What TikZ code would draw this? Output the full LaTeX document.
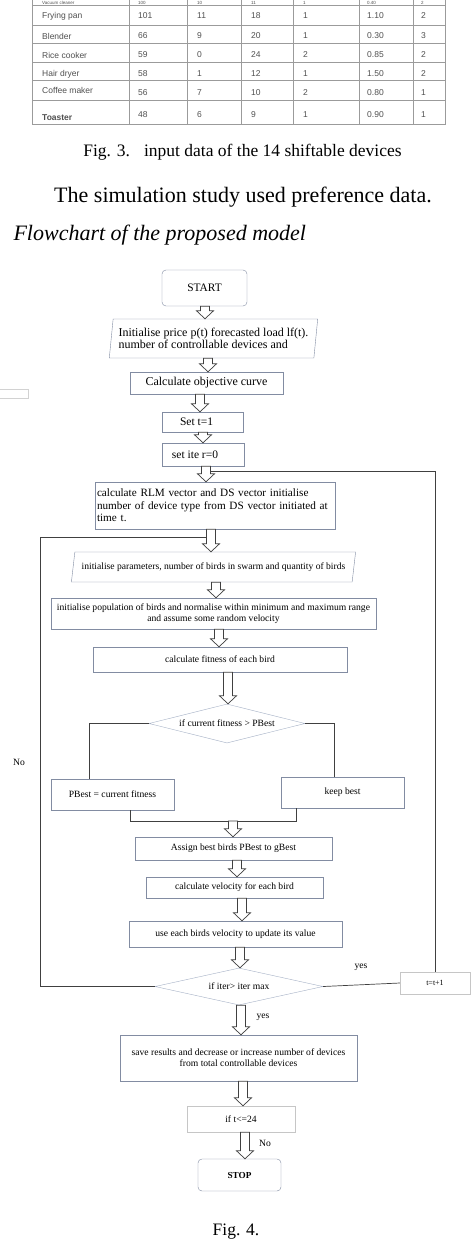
\documentclass[tikz,border=0pt]{standalone}
\usepackage{fontspec}
\setmainfont{Liberation Serif}
\newfontfamily\tablefont{Liberation Sans}
\usetikzlibrary{shapes.geometric,calc}

\definecolor{boxline}{RGB}{130,140,162}
\definecolor{diamline}{RGB}{165,176,198}
\definecolor{gridline}{RGB}{155,155,155}
\definecolor{cellgray}{RGB}{80,80,80}

\tikzset{
    box/.style = {draw=boxline, rectangle, inner sep=1pt, align=center,
        font=\fontsize{9.6}{11}\selectfont},
    terminal/.style = {box, rounded corners=4pt},
    inout/.style = {box, trapezium, trapezium stretches=true},
    decision/.style = {box, diamond, draw=diamline, inner sep=0pt},
    hollow/.style = {draw=black!75, fill=white, line width=0.7pt},
    link/.style = {draw=black!75, line width=0.7pt},
    cell/.style = {font=\tablefont\fontsize{8.5}{10}\selectfont,
        text=cellgray, anchor=west, inner sep=0pt},
    topcell/.style = {cell, font=\tablefont\fontsize{4.5}{5}\selectfont},
    grid/.style = {draw=gridline, line width=0.8pt},
}

% hollow block arrow: x position, from anchor, to anchor
\newcommand{\hollowarrow}[3]{%
    \draw [hollow]
        let \p1 = (#2), \p2 = (#3) in
        ({#1pt-4.5pt}, \y1) -- ({#1pt-4.5pt}, {\y2+8pt})
        -- ({#1pt-8.5pt}, {\y2+8pt}) -- ({#1pt}, \y2)
        -- ({#1pt+8.5pt}, {\y2+8pt}) -- ({#1pt+4.5pt}, {\y2+8pt})
        -- ({#1pt+4.5pt}, \y1) -- cycle;
}

\begin{document}
\begin{tikzpicture}[x=1pt, y=-1pt]
    \useasboundingbox (0,0) rectangle (474,1241);
    \fill [white] (0,0) rectangle (474,1241);
    \clip (0,0) rectangle (474,1241);

    % table of devices
    \draw [grid]
        (32,-5) -- (32,124) -- (445,124) -- (445,-5)
        (32,5) -- (445,5)
        (32,25) -- (445,25)
        (32,43) -- (445,43)
        (32,62) -- (445,62)
        (32,80) -- (445,80)
        (32,100) -- (445,100)
        ;
    \foreach \x in {129,187,241,293,359,413}
        \draw [grid] (\x,-5) -- (\x,124);

    % first row, mostly off the page
    \node [topcell] at (42,2.6) {Vacuum cleaner};
    \node [topcell] at (138,2.6) {100};
    \node [topcell] at (197,2.6) {10};
    \node [topcell] at (251,2.6) {11};
    \node [topcell] at (303,2.6) {1};
    \node [topcell] at (367,2.6) {0.40};
    \node [topcell] at (421,2.6) {2};

    \foreach \name/\ny/\vy/\a/\b/\c/\d/\e/\f in {
            Frying pan/16/16/101/11/18/1/1.10/2,
            Blender/36/36/66/9/20/1/0.30/3,
            Rice cooker/55/55/59/0/24/2/0.85/2,
            Hair dryer/74/74/58/1/12/1/1.50/2,
            Coffee maker/90/93/56/7/10/2/0.80/1,
            \textbf{Toaster}/118/115/48/6/9/1/0.90/1} {
        \node [cell] at (42,\ny) {\name};
        \node [cell] at (138,\vy) {\a};
        \node [cell] at (197,\vy) {\b};
        \node [cell] at (251,\vy) {\c};
        \node [cell] at (303,\vy) {\d};
        \node [cell] at (367,\vy) {\e};
        \node [cell] at (421,\vy) {\f};
    }

    % captions and text
    \node (fig3) at (242.5,152)
        [font=\fontsize{17.5}{20}\selectfont]
        {Fig. 3.\hspace{0.8em}input data of the 14 shiftable devices};
    \node (simtext) at (243,197)
        [font=\fontsize{22}{26}\selectfont]
        {The simulation study used preference data.};
    \node (flowtitle) at (10,235) [anchor=west]
        [font=\fontsize{22}{26}\selectfont\itshape]
        {Flowchart of the proposed model};
    \node (fig4) at (236,1232)
        [font=\fontsize{17.5}{20}\selectfont]
        {Fig. 4.};

    \draw [gray!35] (-1,389) rectangle (28,398);

    % flowchart boxes
    \node (start) at (204.5,288) [terminal, minimum width=85pt, minimum height=36pt,
        font=\fontsize{11.4}{13}\selectfont] {START};
    \node (init) at (213.5,338.5) [inout, trapezium left angle=81,
        trapezium right angle=99, minimum width=209pt, minimum height=39pt,
        align=left, font=\fontsize{12}{12.5}\selectfont]
        {Initialise price p(t) forecasted load lf(t).\\
         number of controllable devices and};
    \node (objective) at (206.5,383) [box, minimum width=153pt, minimum height=22pt,
        font=\fontsize{12}{14}\selectfont] {Calculate objective curve};
    \node (sett) at (202.5,422) [box, minimum width=81pt, minimum height=20pt,
        font=\fontsize{11.5}{14}\selectfont] {Set t=1\hspace{12pt}};
    \node (setiter) at (203,454.5) [box, minimum width=82pt, minimum height=23pt,
        font=\fontsize{11.5}{14}\selectfont] {set ite r=0\hspace{16pt}};
    \node (rlm) at (215,505.5) [box, minimum width=240pt, minimum height=47pt,
        text width=236pt, align=left, font=\fontsize{11.2}{12.6}\selectfont]
        {calculate RLM vector and DS vector initialise\\
         number of device type from DS vector initiated at\\
         time t.};
    \node (params) at (213.5,567) [inout, trapezium left angle=73,
        trapezium right angle=107, minimum width=285pt, minimum height=30pt]
        {initialise parameters, number of birds in swarm and quantity of birds};
    \node (population) at (213.5,613.5) [box, minimum width=325pt, minimum height=31pt]
        {initialise population of birds and normalise within minimum and maximum range\\
         and assume some random velocity};
    \node (fitness) at (220,659.5) [box, minimum width=254pt, minimum height=25pt]
        {calculate fitness of each bird};
    \node (better) at (227,723.5) [decision, aspect=4, minimum width=156pt,
        minimum height=39pt] {if current fitness > PBest};
    \node (pbest) at (112.5,794.5) [box, minimum width=123pt, minimum height=31pt]
        {PBest = current fitness};
    \node (keep) at (342.5,792.5) [box, minimum width=123pt, minimum height=31pt]
        {keep best};
    \node (assign) at (233.5,848.5) [box, minimum width=197pt, minimum height=23pt]
        {Assign best birds PBest to gBest};
    \node (velocity) at (234.5,887.5) [box, minimum width=177pt, minimum height=21pt]
        {calculate velocity for each bird};
    \node (update) at (235.5,934) [box, minimum width=213pt, minimum height=26pt]
        {use each birds velocity to update its value};
    \node (itercheck) at (239,986.5) [decision, aspect=4.5, minimum width=168pt,
        minimum height=37pt] {if iter> iter max};
    \node (tnext) at (435,983) [box, draw=gray!45, minimum width=70pt,
        minimum height=22pt, font=\fontsize{8}{10}\selectfont] {t=t+1};
    \node (save) at (238.5,1058) [box, minimum width=237pt, minimum height=46pt]
        {save results and decrease or increase number of devices\\
         from total controllable devices};
    \node (tcheck) at (241,1119) [box, draw=gray!45, minimum width=108pt,
        minimum height=26pt] {if t<=24};
    \node (stop) at (239.5,1175) [terminal, minimum width=83pt, minimum height=32pt,
        font=\fontsize{9.2}{11}\selectfont\bfseries] {STOP};

    % labels
    \node (nolabel) at (19,762) [font=\fontsize{9.6}{11}\selectfont] {No};
    \node (yesright) at (361,967) [font=\fontsize{9.6}{11}\selectfont] {yes};
    \node (yesdown) at (263,1017) [font=\fontsize{9.6}{11}\selectfont] {yes};
    \node (nodown) at (265,1143) [font=\fontsize{9.6}{11}\selectfont] {No};

    % connectors
    \coordinate (merge) at (233,821);
    \coordinate (loopright) at (210,471);
    \coordinate (loopleft) at (206,537);
    \draw [link] (better.west) -| ([xshift=-23.5pt]pbest.north);
    \draw [link] (better.east) -| ([xshift=-8.5pt]keep.north);
    \draw [link] ([xshift=17.5pt]pbest.south) |- (merge);
    \draw [link] ([xshift=-46.5pt]keep.south) |- (merge);
    \draw [link] (tnext.north) |- (loopright);
    \draw [link] (itercheck.west) -- ++(-114,0) |- (loopleft);
    \draw [link] (itercheck.east) -- (tnext.west);

    \hollowarrow{205}{start.south}{init.north}
    \hollowarrow{208}{init.south}{objective.north}
    \hollowarrow{200}{objective.south}{sett.north}
    \hollowarrow{203}{sett.south}{setiter.north}
    \hollowarrow{206}{setiter.south}{rlm.north}
    \hollowarrow{211}{rlm.south}{params.north}
    \hollowarrow{216}{params.south}{population.north}
    \hollowarrow{219}{population.south}{fitness.north}
    \hollowarrow{228}{fitness.south}{better.north}
    \hollowarrow{233}{merge}{assign.north}
    \hollowarrow{237}{assign.south}{velocity.north}
    \hollowarrow{242}{velocity.south}{update.north}
    \hollowarrow{240}{update.south}{itercheck.north}
    \hollowarrow{241}{itercheck.south}{save.north}
    \hollowarrow{243}{save.south}{tcheck.north}
    \hollowarrow{245}{tcheck.south}{stop.north}
\end{tikzpicture}
\end{document}
